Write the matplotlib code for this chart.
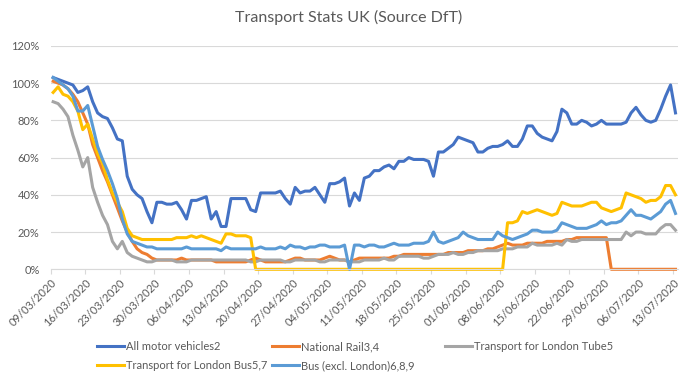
import matplotlib
matplotlib.use("Agg")
import matplotlib.pyplot as plt
import matplotlib.dates as mdates
import pandas as pd

plt.rcParams["font.family"] = ["Lato", "DejaVu Sans"]

# daily values, % of pre-lockdown baseline, 09/03/2020 .. 13/07/2020
dates = pd.date_range("2020-03-09", "2020-07-13", freq="D")

motor = [
    103, 102, 101, 100, 99, 95, 96,
    98, 90, 84, 82, 81, 76, 70,
    69, 50, 43, 40, 38, 31, 25,
    36, 36, 35, 35, 36, 32, 27,
    37, 37, 38, 39, 27, 31, 23,
    23, 38, 38, 38, 38, 32, 31,
    41, 41, 41, 41, 42, 38, 35,
    44, 41, 42, 42, 44, 40, 36,
    46, 46, 47, 49, 34, 41, 37,
    49, 50, 53, 53, 55, 56, 54,
    58, 58, 60, 59, 59, 59, 58,
    50, 63, 63, 65, 67, 71, 70,
    69, 68, 63, 63, 65, 66, 66,
    67, 69, 66, 66, 70, 77, 77,
    73, 71, 70, 69, 74, 86, 84,
    78, 78, 80, 79, 77, 78, 80,
    78, 78, 78, 78, 79, 84, 87,
    83, 80, 79, 80, 86, 93, 99,
    84,
]

rail = [
    101, 100, 99, 97, 94, 90, 84,
    78, 67, 60, 53, 47, 40, 33,
    26, 20, 15, 11, 9, 8, 6,
    5, 5, 5, 5, 5, 6, 5,
    5, 5, 5, 5, 5, 4, 4,
    4, 4, 4, 4, 4, 5, 6,
    5, 4, 4, 4, 4, 4, 5,
    6, 6, 5, 5, 5, 5, 6,
    7, 6, 5, 5, 4, 5, 6,
    6, 6, 6, 6, 6, 6, 7,
    7, 8, 8, 8, 8, 8, 8,
    8, 8, 8, 9, 9, 9, 9,
    10, 10, 10, 10, 11, 11, 12,
    13, 14, 13, 13, 13, 14, 14,
    14, 14, 15, 15, 15, 15, 16,
    16, 17, 17, 17, 17, 17, 17,
    17, 0, 0, 0, 0, 0, 0,
    0, 0, 0, 0, 0, 0, 0,
    0,
]

tube = [
    90, 89, 86, 82, 72, 64, 55,
    60, 44, 36, 29, 24, 15, 11,
    15, 9, 7, 6, 5, 4, 4,
    5, 5, 5, 5, 4, 4, 4,
    5, 5, 5, 5, 5, 5, 5,
    5, 5, 5, 5, 5, 4, 4,
    5, 5, 5, 5, 5, 4, 4,
    5, 5, 5, 5, 5, 4, 4,
    5, 5, 5, 5, 4, 4, 4,
    5, 5, 5, 5, 6, 5, 5,
    7, 7, 7, 7, 7, 6, 6,
    7, 8, 8, 8, 9, 8, 8,
    9, 9, 10, 10, 10, 10, 10,
    11, 11, 11, 12, 12, 12, 14,
    13, 13, 13, 13, 14, 13, 16,
    15, 15, 16, 16, 16, 16, 16,
    16, 16, 16, 16, 20, 18, 20,
    20, 19, 19, 19, 22, 24, 24,
    21,
]

tfl_bus = [
    95, 98, 94, 93, 90, 85, 75,
    78, 70, 62, 57, 48, 41, 36,
    31, 22, 18, 17, 16, 16, 16,
    16, 16, 16, 16, 17, 17, 17,
    18, 17, 18, 17, 16, 15, 14,
    19, 19, 18, 18, 18, 17, 0,
    0, 0, 0, 0, 0, 0, 0,
    0, 0, 0, 0, 0, 0, 0,
    0, 0, 0, 0, 0, 0, 0,
    0, 0, 0, 0, 0, 0, 0,
    0, 0, 0, 0, 0, 0, 0,
    0, 0, 0, 0, 0, 0, 0,
    0, 0, 0, 0, 0, 0, 0,
    0, 25, 25, 26, 31, 30, 31,
    32, 31, 30, 29, 30, 36, 35,
    34, 34, 34, 35, 36, 36, 33,
    32, 31, 32, 33, 41, 40, 39,
    38, 36, 37, 37, 39, 45, 45,
    40,
]

bus_ex_london = [
    103, 101, 99, 97, 93, 85, 85,
    88, 77, 66, 59, 53, 46, 38,
    27, 19, 15, 14, 13, 12, 12,
    11, 11, 11, 11, 11, 11, 12,
    11, 11, 11, 11, 11, 11, 10,
    12, 11, 11, 11, 11, 11, 11,
    12, 11, 11, 11, 12, 11, 13,
    12, 12, 11, 12, 12, 13, 13,
    12, 12, 12, 13, 0, 13, 13,
    12, 13, 13, 12, 12, 13, 14,
    13, 13, 13, 14, 14, 14, 15,
    20, 15, 14, 15, 16, 17, 20,
    18, 17, 16, 16, 16, 16, 20,
    18, 17, 16, 17, 18, 19, 21,
    21, 20, 20, 20, 21, 25, 24,
    23, 22, 22, 22, 23, 24, 26,
    24, 25, 25, 26, 29, 32, 29,
    29, 28, 27, 29, 31, 35, 37,
    30,
]

series = [
    ("All motor vehicles2", motor, "#4472C4"),
    ("National Rail3,4", rail, "#ED7D31"),
    ("Transport for London Tube5", tube, "#A5A5A5"),
    ("Transport for London Bus5,7", tfl_bus, "#FFC000"),
    ("Bus (excl. London)6,8,9", bus_ex_london, "#5B9BD5"),
]

text_col = "#595959"
grid_col = "#D9D9D9"

fig = plt.figure(figsize=(6.98, 3.84), dpi=100)
ax = fig.add_axes([0.0726, 0.2987, 0.9713 - 0.0726, 0.8805 - 0.2987])

x = dates + pd.Timedelta(hours=12)
lines = {}
for name, vals, col in series:
    (ln,) = ax.plot(x, [v / 100 for v in vals], color=col, lw=2.2,
                    solid_joinstyle="round", clip_on=False, label=name)
    lines[name] = ln

ax.set_xlim(dates[0], dates[-1] + pd.Timedelta(days=1))
ax.set_ylim(0, 1.2)
ax.set_yticks([i / 10 for i in range(0, 13, 2)])
ax.yaxis.set_major_formatter(matplotlib.ticker.FuncFormatter(lambda v, p: f"{v:.0%}"))
ax.grid(axis="y", color=grid_col, lw=0.8)
ax.set_axisbelow(True)

ax.set_xticks(dates[::7])
ax.xaxis.set_major_formatter(mdates.DateFormatter("%d/%m/%Y"))
for lab in ax.get_xticklabels():
    lab.set_rotation(45)
    lab.set_ha("right")
    lab.set_rotation_mode("anchor")

for s in ["top", "right", "left"]:
    ax.spines[s].set_visible(False)
ax.spines["bottom"].set_color(grid_col)
ax.spines["bottom"].set_linewidth(0.8)
ax.tick_params(axis="y", length=0, pad=8, labelsize=8, labelcolor=text_col)
ax.tick_params(axis="x", length=3.5, width=0.8, color=grid_col, pad=2,
               labelsize=8, labelcolor=text_col)

fig.text(0.5, 0.955, "Transport Stats UK (Source DfT)", ha="center", va="center",
         fontsize=11.5, color=text_col)

# legend: three columns laid out like Excel's
cols = [
    (97, ["All motor vehicles2", "Transport for London Bus5,7"]),
    (272, ["National Rail3,4", "Bus (excl. London)6,8,9"]),
    (445, ["Transport for London Tube5"]),
]
for px, names in cols:
    fig.legend([lines[n] for n in names], names, loc="upper left",
               bbox_to_anchor=(px / 698, 1 - 341 / 384), frameon=False,
               fontsize=8, labelcolor=text_col, handlelength=2.4,
               handletextpad=0.2, borderpad=0, borderaxespad=0,
               labelspacing=0.75)

fig.savefig("out.png", dpi=100)
